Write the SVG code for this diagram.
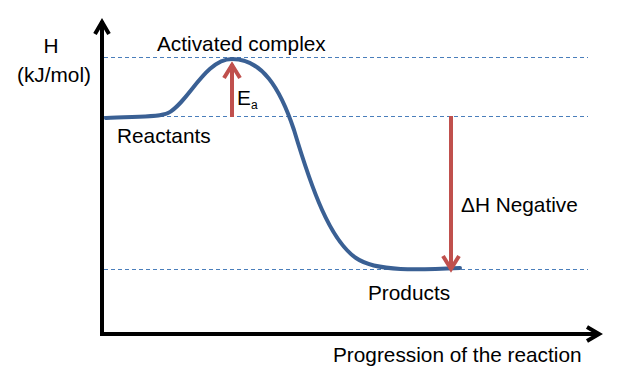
<svg xmlns="http://www.w3.org/2000/svg" width="620" height="383" viewBox="0 0 620 383">
<style>
text{font-family:"Liberation Sans",Arial,Helvetica,sans-serif;font-size:20.8px;fill:#000}
.dash{stroke:#4A7EBB;stroke-width:1;stroke-dasharray:4 3;fill:none}
.axis{stroke:#000;stroke-width:4;fill:none;stroke-linecap:butt}
.head{stroke:#000;stroke-width:4;fill:none;stroke-linejoin:miter;stroke-linecap:butt}
.red{stroke:#C0504D;stroke-width:4;fill:none}
.curve{stroke:#3A6094;stroke-width:4;fill:none;stroke-linecap:round}
</style>
<rect width="620" height="383" fill="#fff"/>
<g id="guides">
<line class="dash" x1="104" y1="57.5" x2="588" y2="57.5"/>
<line class="dash" x1="104" y1="116.5" x2="588" y2="116.5"/>
<line class="dash" x1="104" y1="269.5" x2="588" y2="269.5"/>
</g>
<g id="axes">
<line class="axis" x1="102" y1="21" x2="102" y2="335"/>
<polyline class="head" points="95,34 102,22 109,34"/>
<line class="axis" x1="100" y1="334" x2="598" y2="334"/>
<polyline class="head" points="587,327 599,334 587,341"/>
</g>
<g id="curve">
<path class="curve" d="M106,118 C130,116 158,118 168,113 C188,103 205,59 232,59 C262,59 280,88 294,130 C312,190 330,240 356,258 C376,272 420,270 460,268"/>
</g>
<g id="connectors">
<line class="red" x1="232" y1="117" x2="232" y2="64"/>
<polyline class="red" points="224,78 232,65 240,78" stroke-linejoin="miter"/>
<line class="red" x1="451" y1="116" x2="451" y2="268"/>
<polyline class="red" points="443,256 451,269 459,256" stroke-linejoin="miter"/>
</g>
<g id="labels">
<text x="51" y="53" text-anchor="middle" font-size="20">H</text>
<text x="54" y="82" text-anchor="middle">(kJ/mol)</text>
<text x="157" y="51">Activated complex</text>
<text x="117" y="143" font-size="19">Reactants</text>
<text x="237" y="105">E<tspan font-size="12" dy="4">a</tspan></text>
<text x="461" y="212" font-size="20.4">ΔH Negative</text>
<text x="368" y="300">Products</text>
<text x="333" y="362">Progression of the reaction</text>
</g>
</svg>
